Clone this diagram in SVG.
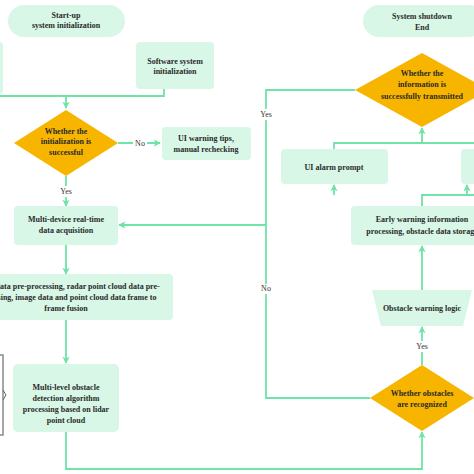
<svg xmlns="http://www.w3.org/2000/svg" width="474" height="474" viewBox="0 0 474 474">
<style>
.box{fill:#d8f7e7;}
.dia{fill:#f7b500;}
.t{font-family:"Liberation Serif",serif;font-size:8px;font-weight:bold;fill:#2a2a2a;text-anchor:middle;}
.lb{font-family:"Liberation Serif",serif;font-size:8px;fill:#333;text-anchor:middle;}
.ln{fill:none;stroke:#6fe3a8;stroke-width:1.8;}
</style>
<defs>
<marker id="ah" viewBox="0 0 8 8" refX="7" refY="4" markerWidth="4" markerHeight="4" orient="auto" markerUnits="strokeWidth">
<path d="M0,0 L8,4 L0,8 L2,4 Z" fill="#6fe3a8"/>
</marker>
</defs>
<rect width="474" height="474" fill="#ffffff"/>

<g id="connectors">
<path class="ln" d="M-2,96 H164 V89"/>
<path class="ln" d="M66,96 V108" marker-end="url(#ah)"/>
<path class="ln" d="M118,143 H133 M147,143 H160" marker-end="url(#ah)"/>
<path class="ln" d="M66,176 V186 M66,197 V206" marker-end="url(#ah)"/>
<path class="ln" d="M66,245 V274" marker-end="url(#ah)"/>
<path class="ln" d="M66,320 V363" marker-end="url(#ah)"/>
<path class="ln" d="M66,432 V469 H422 V432" marker-end="url(#ah)"/>
<path class="ln" d="M355,90 H266 V109 M266,120 V225"/>
<path class="ln" d="M370,398 H266 V294 M266,284 V225 H119" marker-end="url(#ah)"/>
<path class="ln" d="M422,365 V352 M422,341 V327" marker-end="url(#ah)"/>
<path class="ln" d="M422,290 V246" marker-end="url(#ah)"/>
<path class="ln" d="M422,206 V195 H476"/>
<path class="ln" d="M334,195 V185" marker-end="url(#ah)"/>
<path class="ln" d="M467,195 V185" marker-end="url(#ah)"/>
<path class="ln" d="M334,149 V143 H476"/>
<path class="ln" d="M422,143 V128" marker-end="url(#ah)"/>
<text class="lb" x="140" y="146">No</text>
<text class="lb" x="66" y="194">Yes</text>
<text class="lb" x="266" y="117">Yes</text>
<text class="lb" x="266" y="291">No</text>
<text class="lb" x="422" y="349">Yes</text>
</g>

<g id="startup">
<rect class="box" x="8" y="5" width="117" height="32" rx="16"/>
<text class="t" x="66" y="18">Start-up</text>
<text class="t" x="66" y="28">system initialization</text>
</g>
<g id="left-cut">
<rect class="box" x="-100" y="42" width="103" height="52" rx="4"/>
</g>
<g id="software">
<rect class="box" x="136" y="42" width="78" height="47" rx="4"/>
<text class="t" x="175" y="64">Software system</text>
<text class="t" x="175" y="74">initialization</text>
</g>
<g id="dec-init">
<path class="dia" d="M66,110 L118,143 L66,176 L14,143 Z"/>
<text class="t" x="66" y="134">Whether the</text>
<text class="t" x="66" y="144">initialization is</text>
<text class="t" x="66" y="155">successful</text>
</g>
<g id="ui-warning">
<rect class="box" x="162" y="127" width="89" height="33" rx="4"/>
<text class="t" x="206" y="141">UI warning tips,</text>
<text class="t" x="206" y="152">manual rechecking</text>
</g>
<g id="acquisition">
<rect class="box" x="14" y="206" width="104" height="39" rx="4"/>
<text class="t" x="66" y="222">Multi-device real-time</text>
<text class="t" x="66" y="233">data acquisition</text>
</g>
<g id="preprocessing">
<rect class="box" x="-41" y="274" width="214" height="46" rx="4"/>
<text class="t" x="66" y="289">Image data pre-processing, radar point cloud data pre-</text>
<text class="t" x="66" y="300">processing, image data and point cloud data frame to</text>
<text class="t" x="66" y="311">frame fusion</text>
</g>
<g id="detection">
<rect class="box" x="13" y="364" width="106" height="68" rx="5"/>
<text class="t" x="66" y="390">Multi-level obstacle</text>
<text class="t" x="66" y="401">detection algorithm</text>
<text class="t" x="66" y="412">processing based on lidar</text>
<text class="t" x="66" y="423">point cloud</text>
</g>
<g id="side-note">
<rect x="-60" y="355" width="63" height="80" fill="#ffffff" stroke="#8a8a8a" stroke-width="1.5"/>
<path d="M3,390 L6,395 L3,400" fill="none" stroke="#666" stroke-width="1"/>
</g>
<g id="shutdown">
<rect class="box" x="363" y="5" width="122" height="32" rx="16"/>
<text class="t" x="422" y="19">System shutdown</text>
<text class="t" x="422" y="30">End</text>
</g>
<g id="dec-transmit">
<path class="dia" d="M422,53 L489,90 L422,127 L355,90 Z"/>
<text class="t" x="422" y="76">Whether the</text>
<text class="t" x="422" y="87">information is</text>
<text class="t" x="422" y="99">successfully transmitted</text>
</g>
<g id="ui-alarm">
<rect class="box" x="281" y="149" width="107" height="35" rx="4"/>
<text class="t" x="334" y="170">UI alarm prompt</text>
</g>
<g id="right-cut">
<rect class="box" x="461" y="149" width="60" height="35" rx="4"/>
</g>
<g id="early-warning">
<rect class="box" x="351" y="206" width="142" height="39" rx="4"/>
<text class="t" x="422" y="222">Early warning information</text>
<text class="t" x="422" y="234">processing, obstacle data storage</text>
</g>
<g id="warning-logic">
<path class="box" d="M372,290 H472 L463,326 H381 Z"/>
<text class="t" x="422" y="311">Obstacle warning logic</text>
</g>
<g id="dec-obstacles">
<path class="dia" d="M422,365 L474,398 L422,431 L370,398 Z"/>
<text class="t" x="422" y="396">Whether obstacles</text>
<text class="t" x="422" y="407">are recognized</text>
</g>
</svg>
